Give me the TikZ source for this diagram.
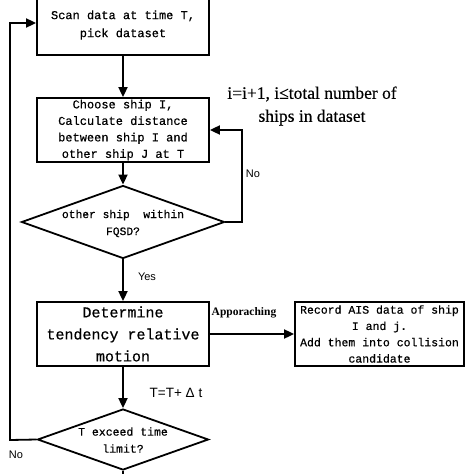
\documentclass[tikz,border=0pt]{standalone}
\usepackage{fontspec}
\setmainfont{Liberation Serif}
\newfontfamily\boxfont[FakeBold=0.6]{Liberation Mono}
\newfontfamily\lblfont{Liberation Sans}
\newfontfamily\serlbl[FakeBold=0.4]{Liberation Serif}
\usetikzlibrary{shapes.geometric,arrows.meta}
\tikzset{
  proc/.style={draw, line width=1.8pt, rectangle, minimum width=172pt, minimum height=64pt, inner sep=0pt, align=center},
  dec/.style={draw, line width=1.8pt, diamond, inner sep=0pt},
  flow/.style={line width=1.8pt, -{Triangle[length=10pt,width=9pt]}},
  plain/.style={line width=1.8pt},
  lbl/.style={inner sep=0pt, align=center},
}
\begin{document}
\begin{tikzpicture}[x=1pt,y=-1pt]
\useasboundingbox (0,0) rectangle (474,474);
\clip (0,0) rectangle (474,474);
% boxes
\node[proc, minimum height=60pt, font=\boxfont\fontsize{12}{18}\selectfont] (b1) at (123,25) {Scan data at time T,\\pick dataset};
\node[proc, font=\boxfont\fontsize{12}{16.5}\selectfont] (b2) at (123,130) {Choose ship I,\\Calculate distance\\between ship I and\\other ship J at T};
\node[dec, minimum width=203pt, minimum height=73pt] (d1) at (123,222) {};
\node[lbl, font=\boxfont\fontsize{11.3}{17}\selectfont] (d1t) at (123,223.5) {other ship\ \ within\\FQSD?};
\node[proc, font=\boxfont\fontsize{15}{22}\selectfont] (b3) at (123,334) {Determine\\tendency relative\\motion};
\node[proc, minimum width=169pt, font=\boxfont\fontsize{11.5}{16.3}\selectfont] (b4) at (379.5,334) {Record AIS data of ship\\I and j.\\Add them into collision\\candidate};
\node[dec, minimum width=171pt, minimum height=61pt] (d2) at (123,439.5) {};
\node[lbl, font=\boxfont\fontsize{11.5}{17}\selectfont] (d2t) at (123,440) {T exceed time\\limit?};
% coordinates
\coordinate (r1) at (242,222);
\coordinate (l1) at (10,440);
\coordinate (t1) at (10,23);
\coordinate (bot) at (123,480);
% connectors
\draw[flow] (b1.south) -- (b2.north);
\draw[flow] (b2.south) -- (d1.north);
\draw[flow] (d1.south) -- (b3.north);
\draw[flow] (b3.east) -- (b4.west);
\draw[flow] (b3.south) -- (d2.north);
\draw[flow] (d1.east) -- (r1) |- (b2.east);
\draw[flow] (d2.west) -- (l1) -- (t1) -- (t1 -| b1.west);
\draw[plain] (d2.south) -- (bot);
% labels
\node[lbl, font=\serlbl\fontsize{17.5}{23}\selectfont] (lab1) at (312,106) {i=i+1, i≤total number of\\ships in dataset};
\node[lbl, font=\lblfont\fontsize{11}{12}\selectfont] (lab2) at (253,174) {No};
\node[lbl, font=\lblfont\fontsize{11}{12}\selectfont] (lab3) at (147,277) {Yes};
\node[lbl, font=\bfseries\fontsize{11.5}{12}\selectfont] (lab4) at (244,313) {Apporaching};
\node[lbl, font=\lblfont\fontsize{13.5}{15}\selectfont] (lab5) at (176,393) {T=T+ Δ t};
\node[lbl, font=\lblfont\fontsize{11}{12}\selectfont] (lab6) at (16,455) {No};
\end{tikzpicture}
\end{document}
